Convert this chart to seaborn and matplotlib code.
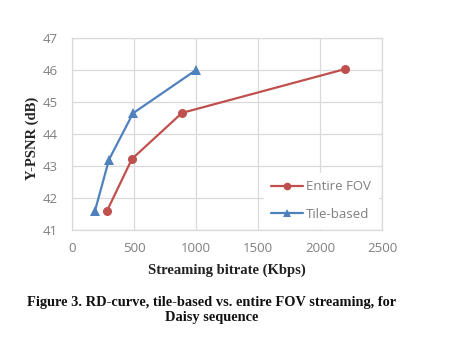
import matplotlib
matplotlib.use("Agg")
import matplotlib.pyplot as plt
import seaborn as sns
import pandas as pd

entire_bitrate = [282, 483, 887, 2202]
entire_psnr = [41.6, 43.22, 44.66, 46.03]
tile_bitrate = [185, 298, 492, 1000]
tile_psnr = [41.6, 43.2, 44.65, 46.0]
series_names = ["Entire FOV", "Tile-based"]
x_ticks = [0, 500, 1000, 1500, 2000, 2500]
y_ticks = [41, 42, 43, 44, 45, 46, 47]

df = pd.concat([
    pd.DataFrame({"bitrate": entire_bitrate, "psnr": entire_psnr, "series": series_names[0]}),
    pd.DataFrame({"bitrate": tile_bitrate, "psnr": tile_psnr, "series": series_names[1]}),
])

sns.set_style("white")
plt.rcParams['font.family'] = ['Open Sans', 'DejaVu Sans']

fig = plt.figure(figsize=(4.74, 3.52), dpi=100)
ax = fig.add_axes([0.152, 0.3466, 0.654, 0.5454])

palette = {series_names[0]: "#C0504D", series_names[1]: "#4F81BD"}
markers = {series_names[0]: "o", series_names[1]: "^"}
for name in series_names:
    sub = df[df["series"] == name]
    sns.lineplot(data=sub, x="bitrate", y="psnr", ax=ax, color=palette[name],
                 marker=markers[name], markersize=6.5, linewidth=1.6,
                 markeredgewidth=0, label=name, sort=False, zorder=3)

ax.set_xlim(0, 2500)
ax.set_ylim(41, 47)
ax.set_xticks(x_ticks)
ax.set_yticks(y_ticks)
ax.grid(True, color="#d9d9d9", linewidth=0.9)
ax.set_axisbelow(True)
for sp in ax.spines.values():
    sp.set_color("#d9d9d9")
    sp.set_linewidth(0.9)
ax.tick_params(axis="both", length=0, labelsize=9.5, labelcolor="#7f7f7f")
ax.tick_params(axis="x", pad=9)
ax.tick_params(axis="y", pad=10)

ax.set_xlabel("Streaming bitrate (Kbps)", family="Liberation Serif",
              fontweight="bold", fontsize=10.5, color="#222222")
ax.set_ylabel("Y-PSNR (dB)", family="Liberation Serif",
              fontweight="bold", fontsize=10.5, color="#222222")
ax.xaxis.set_label_coords(0.5, -0.177)
ax.yaxis.label.set_va("center")
ax.yaxis.set_label_coords(-0.129, 0.479)

leg = ax.legend(loc="lower right", bbox_to_anchor=(0.987, 0.01), frameon=True,
                fontsize=9.5, handlelength=2.4, borderpad=0.55, labelspacing=1.1,
                handletextpad=0.25, borderaxespad=0.0, markerscale=0.85)
leg.get_frame().set_facecolor("white")
leg.get_frame().set_edgecolor("white")
leg.get_frame().set_alpha(1.0)
leg.get_frame().set_boxstyle("square", pad=0)
for t in leg.get_texts():
    t.set_color("#7f7f7f")

fig.text(0.446, 0.142, "Figure 3. RD-curve, tile-based vs. entire FOV streaming, for",
         ha="center", va="center", family="Liberation Serif", fontweight="bold",
         fontsize=10.4, color="#111111")
fig.text(0.446, 0.097, "Daisy sequence", ha="center", va="center",
         family="Liberation Serif", fontweight="bold", fontsize=10.4, color="#111111")

fig.savefig("out.png", dpi=100)
